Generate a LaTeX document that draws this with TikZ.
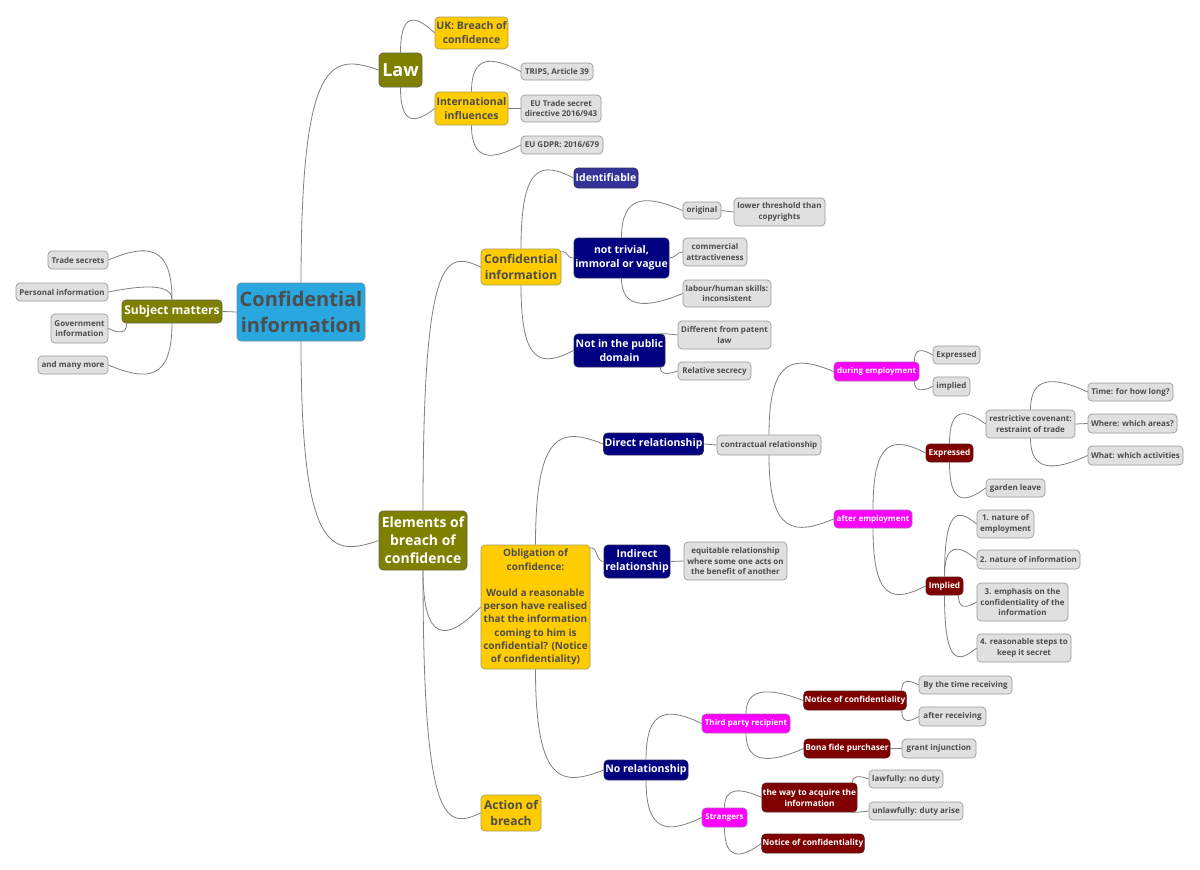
\documentclass[tikz,border=0pt]{standalone}
\usepackage{fontspec}
\setmainfont{Open Sans}
\usetikzlibrary{calc}
\definecolor{rootc}{HTML}{29A8E0}
\definecolor{rootb}{HTML}{6A8EA5}
\definecolor{olive}{HTML}{808000}
\definecolor{oliveb}{HTML}{66664A}
\definecolor{yel}{HTML}{FFCC00}
\definecolor{yelb}{HTML}{A89A5A}
\definecolor{idc}{HTML}{333399}
\definecolor{navy}{HTML}{000080}
\definecolor{navyb}{HTML}{30305A}
\definecolor{mag}{HTML}{FF00FF}
\definecolor{magb}{HTML}{B060B0}
\definecolor{dred}{HTML}{800000}
\definecolor{dredb}{HTML}{5A2020}
\definecolor{gfill}{HTML}{E0E0E0}
\definecolor{gbord}{HTML}{9A9A9A}
\definecolor{tdark}{HTML}{4D4D4D}
\definecolor{lcol}{HTML}{808080}
\newcommand\fs[2]{\fontsize{#1}{#2}\selectfont\bfseries}
\tikzset{
 bx/.style={rounded corners=4pt, line width=0.7pt, align=center, inner xsep=1pt, inner ysep=1pt},
 wh/.style 2 args={minimum width=#1, minimum height=#2},
 rootn/.style={bx, fill=rootc, draw=rootb, text=tdark, font=\fs{20}{26}},
 olv/.style={bx, fill=olive, draw=oliveb, text=white},
 yl/.style={bx, fill=yel, draw=yelb, text=tdark},
 nv/.style={bx, fill=navy, draw=navyb, text=white, font=\fs{10.5}{13.5}},
 mg/.style={bx, fill=mag, draw=magb, text=white, font=\fs{8}{10.5}},
 dr/.style={bx, fill=dred, draw=dredb, text=white, font=\fs{8.3}{11}},
 gr/.style={bx, fill=gfill, draw=gbord, text=tdark, font=\fs{8}{10.5}},
 conn/.style={draw=lcol, line width=0.8pt},
}
% generic curved connector: #1 start, #2 end, #3 sign, #4 overshoot cap
\newcommand\cnv[4]{\draw[conn] let \p1=#1, \p2=#2, \n1={#3*min(abs(\y2-\y1),#4)} in (\p1) .. controls (\x1,{\y2+(\n1)}) and ({\x1+0.4*(\x2-\x1)},{\y2+(\n1)}) .. (\p2);}
\newcommand\cnup[2]{\cnv{(#1.north)}{(#2.west)}{1}{16}}
\newcommand\cndn[2]{\cnv{(#1.south)}{(#2.west)}{-1}{16}}
\newcommand\cnupr[2]{\cnv{($(#1.north east)+(-5,0)$)}{(#2.west)}{1}{16}}
\newcommand\cndnr[2]{\cnv{($(#1.south east)+(-5,0)$)}{(#2.west)}{-1}{16}}
\newcommand\cnlup[2]{\cnv{(#1.north)}{(#2.east)}{1}{16}}
\newcommand\cnldn[2]{\cnv{(#1.south)}{(#2.east)}{-1}{16}}
\newcommand\cnldnl[2]{\cnv{($(#1.south west)+(5,0)$)}{(#2.east)}{-1}{16}}
\newcommand\cnst[2]{\draw[conn] (#1.east) .. controls +(6,0) and +(-6,0) .. (#2.west);}
\newcommand\cnside[2]{\draw[conn] ($(#1.north east)+(0,3)$) .. controls +(8,0) and +(-8,0) .. (#2.west);}
\begin{document}
\begin{tikzpicture}[x=1pt,y=-1pt]
\fill[white] (0,0) rectangle (1200,870);
\useasboundingbox (0,0) rectangle (1200,870);
% nodes
\node[rootn, wh={128}{58}] (root) at (301,312) {Confidential\\information};
\node[olv, wh={100}{23}, font=\fs{12}{15}] (sm) at (172,311.5) {Subject matters};
\node[gr, wh={60}{18}] (ts) at (78,260) {Trade secrets};
\node[gr, wh={92}{18}] (pi) at (62,292) {Personal information};
\node[gr, wh={57}{29}] (gi) at (79.5,328.5) {Government\\information};
\node[gr, wh={70}{18}] (mm) at (73,365) {and many more};
\node[olv, wh={43}{34}, font=\fs{18}{22}] (law) at (400.5,70) {Law};
\node[yl, wh={73}{32}, font=\fs{10.5}{14}] (uk) at (471.5,33) {UK: Breach of\\confidence};
\node[yl, wh={73}{33}, font=\fs{10.5}{14}] (intl) at (471.5,108.5) {International\\influences};
\node[gr, wh={72}{17}] (trips) at (557,71.5) {TRIPS, Article 39};
\node[gr, wh={80}{27}] (eut) at (561,108.5) {EU Trade secret\\directive 2016/943};
\node[gr, wh={82}{18}] (gdpr) at (562,145) {EU GDPR: 2016/679};
\node[olv, wh={88}{59}, font=\fs{14}{18}] (elem) at (423,540.5) {Elements of\\breach of\\confidence};
\node[yl, wh={80}{36}, font=\fs{12}{15.5}] (ci) at (521,267) {Confidential\\information};
\node[nv, wh={64}{20}, fill=idc] (ident) at (606,178) {Identifiable};
\node[nv, wh={95}{40}] (ntv) at (621.5,258) {not trivial,\\immoral or vague};
\node[nv, wh={91}{33}] (npd) at (619.5,350.5) {Not in the public\\domain};
\node[gr, wh={38}{17}] (orig) at (702,210.5) {original};
\node[gr, wh={91}{28}] (lower) at (779.5,212) {lower threshold than\\copyrights};
\node[gr, wh={64}{28}] (comm) at (715,252) {commercial\\attractiveness};
\node[gr, wh={88}{27}] (lab) at (727,293.5) {labour/human skills:\\inconsistent};
\node[gr, wh={93}{28}] (diff) at (724.5,335) {Different from patent\\law};
\node[gr, wh={73}{18}] (rel) at (714.5,371) {Relative secrecy};
\node[yl, wh={109}{124}, font=\fs{10}{13.2}] (obl) at (535.5,607) {Obligation of\\confidence:\\[13.2pt]Would a reasonable\\person have realised\\that the information\\coming to him is\\confidential? (Notice\\of confidentiality)};
\node[nv, wh={99}{22}] (dir) at (653.5,444) {Direct relationship};
\node[gr, wh={104}{20}] (contr) at (769,445) {contractual relationship};
\node[mg, wh={85}{19}] (during) at (876.5,371.5) {during employment};
\node[gr, wh={47}{18}] (exg) at (956.5,355) {Expressed};
\node[gr, wh={37}{19}] (img) at (951.5,386.5) {implied};
\node[mg, wh={78}{18}] (after) at (873,519) {after employment};
\node[dr, wh={47}{18}] (exr) at (949.5,453) {Expressed};
\node[gr, wh={89}{28}] (rc) at (1030.5,424) {restrictive covenant:\\restraint of trade};
\node[gr, wh={85}{18}] (time) at (1130.5,392) {Time: for how long?};
\node[gr, wh={89}{19}] (where) at (1132.5,423.5) {Where: which areas?};
\node[gr, wh={95}{19}] (what) at (1135.5,455.5) {What: which activities};
\node[gr, wh={59}{18}] (gl) at (1015.5,488) {garden leave};
\node[dr, wh={37}{18}] (imr) at (944.5,586) {Implied};
\node[gr, wh={57}{28}] (n1) at (1005.5,524) {1. nature of\\employment};
\node[gr, wh={103}{19}] (n2) at (1028.5,559.5) {2. nature of information};
\node[gr, wh={91}{38}] (n3) at (1022.5,602) {3. emphasis on the\\confidentiality of the\\information};
\node[gr, wh={94}{28}] (n4) at (1024,648) {4. reasonable steps to\\keep it secret};
\node[nv, wh={66}{33}] (ind) at (637,561.5) {Indirect\\relationship};
\node[gr, wh={103}{38}] (eq) at (735.5,561) {equitable relationship\\where some one acts on\\the benefit of another};
\node[nv, wh={84}{20}] (norel) at (646,770) {No relationship};
\node[mg, wh={88}{19}] (tp) at (746,723.5) {Third party recipient};
\node[dr, wh={102}{19}] (noc1) at (855,700.5) {Notice of confidentiality};
\node[gr, wh={93}{18}] (bytime) at (965.5,685) {By the time receiving};
\node[gr, wh={67}{19}] (afterr) at (952.5,716.5) {after receiving};
\node[dr, wh={86}{19}] (bona) at (847,748.5) {Bona fide purchaser};
\node[gr, wh={74}{19}] (grant) at (939,748.5) {grant injunction};
\node[mg, wh={45}{19}] (str) at (724.5,817.5) {Strangers};
\node[dr, wh={95}{29}] (way) at (809.5,797.5) {the way to acquire the\\information};
\node[gr, wh={74}{18}] (lawf) at (906,779) {lawfully: no duty};
\node[gr, wh={94}{18}] (unl) at (916,811) {unlawfully: duty arise};
\node[dr, wh={102}{19}] (noc2) at (813,843.5) {Notice of confidentiality};
\node[yl, wh={60}{36}, font=\fs{12}{15.5}] (action) at (511,813) {Action of\\breach};
% connectors
\draw[conn] (root.west) -- (sm.east);
\cnup{root}{law}
\cndn{root}{elem}
\cnlup{sm}{ts}
\cnlup{sm}{pi}
\cnldnl{sm}{gi}
\cnldn{sm}{mm}
\cnv{(law.north)}{(uk.west)}{1}{20}
\cndn{law}{intl}
\cnup{intl}{trips}
\cnst{intl}{eut}
\cndn{intl}{gdpr}
\cnup{elem}{ci}
\cnv{(elem.south)}{(obl.west)}{-1}{36}
\cndn{elem}{action}
\cnup{ci}{ident}
\cnside{ci}{ntv}
\cndn{ci}{npd}
\cnup{ntv}{orig}
\cnst{ntv}{comm}
\cndn{ntv}{lab}
\cnst{orig}{lower}
\cnupr{npd}{diff}
\cndnr{npd}{rel}
\cnup{obl}{dir}
\cnside{obl}{ind}
\cndn{obl}{norel}
\cnst{dir}{contr}
\cnup{contr}{during}
\cndn{contr}{after}
\cnupr{during}{exg}
\cndnr{during}{img}
\cnup{after}{exr}
\cndn{after}{imr}
\cnup{exr}{rc}
\cndn{exr}{gl}
\cnup{rc}{time}
\cnst{rc}{where}
\cndn{rc}{what}
\cnup{imr}{n1}
\cnup{imr}{n2}
\cndnr{imr}{n3}
\cndn{imr}{n4}
\cnst{ind}{eq}
\cnup{norel}{tp}
\cndn{norel}{str}
\cnup{tp}{noc1}
\cndn{tp}{bona}
\cnupr{noc1}{bytime}
\cndnr{noc1}{afterr}
\cnst{bona}{grant}
\cnup{str}{way}
\cndn{str}{noc2}
\cnupr{way}{lawf}
\cndnr{way}{unl}
\end{tikzpicture}
\end{document}
